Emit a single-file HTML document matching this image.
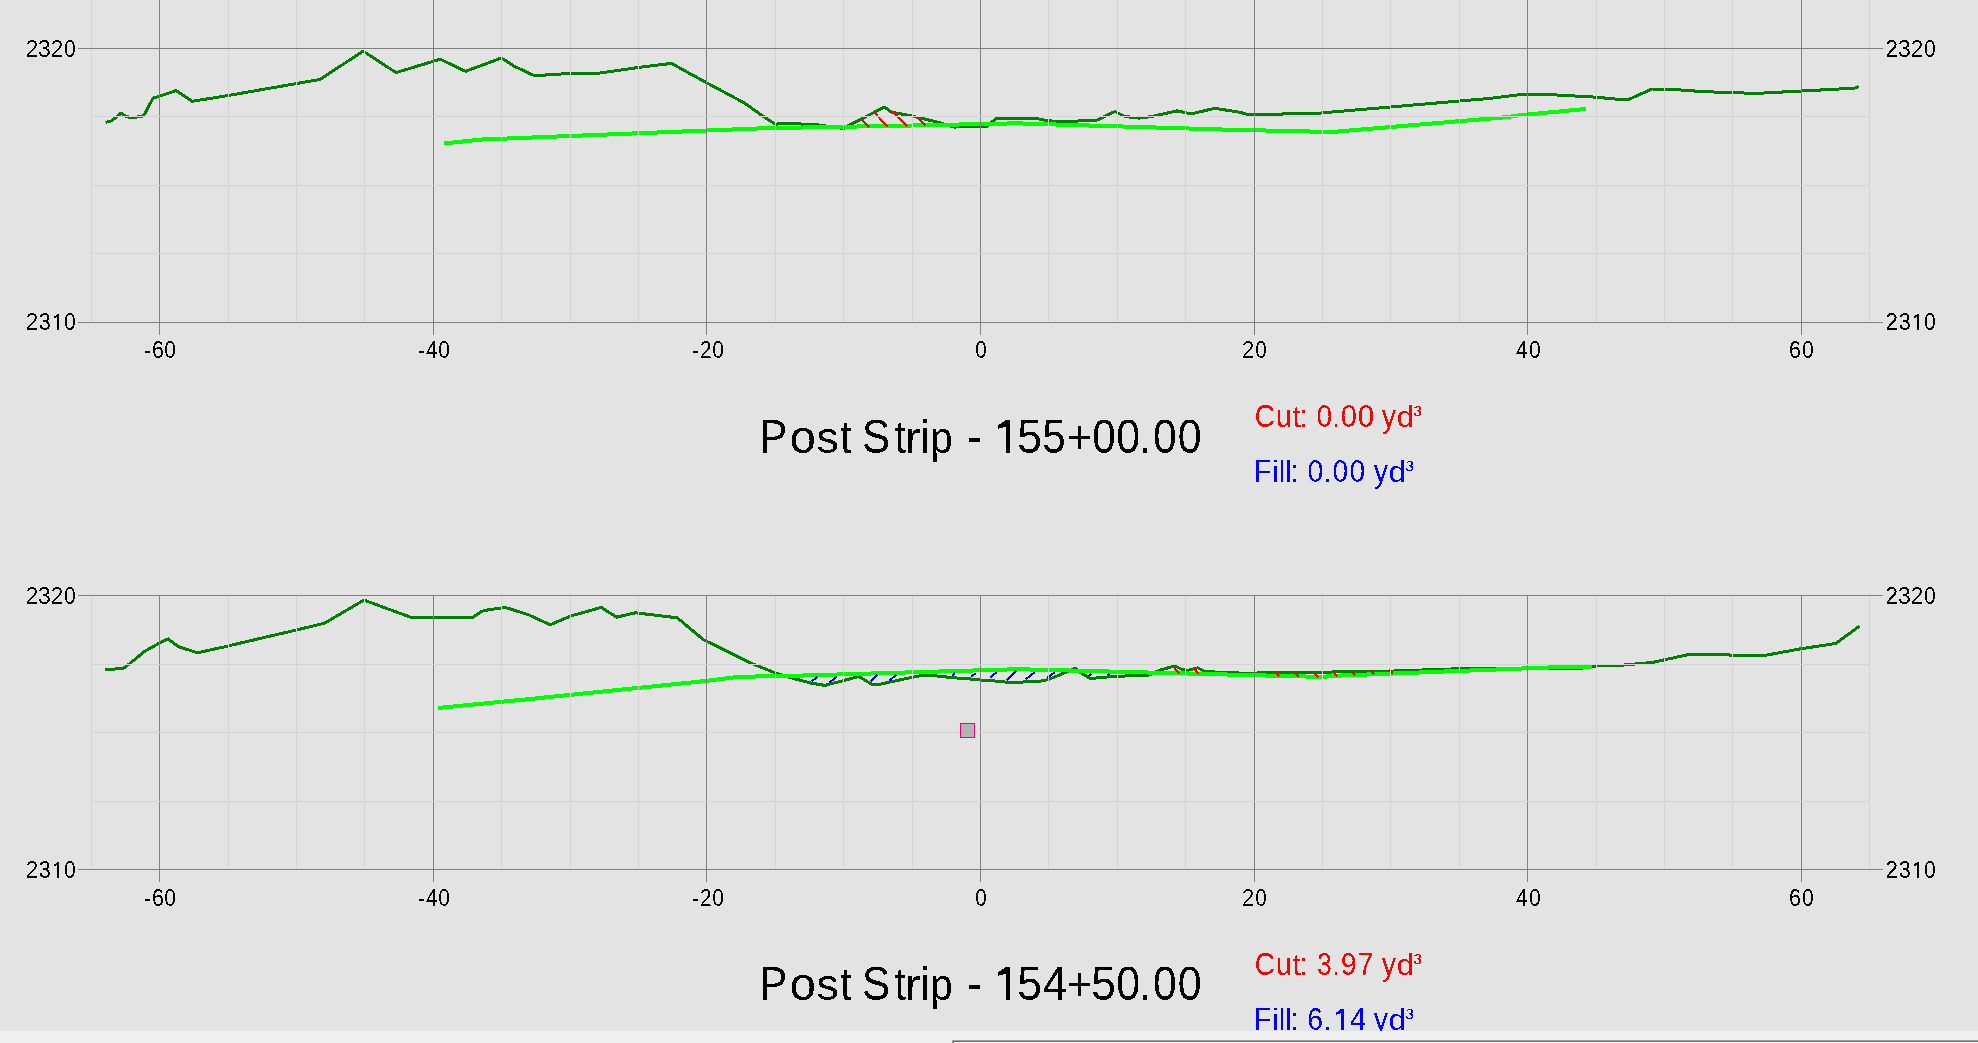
<!DOCTYPE html>
<html><head><meta charset="utf-8"><title>Post Strip</title>
<style>
html,body{margin:0;padding:0;background:#e3e3e3;overflow:hidden;}
svg{display:block;}
</style></head><body>
<svg width="1978" height="1043" viewBox="0 0 1978 1043">
<rect x="0" y="0" width="1978" height="1043" fill="#e3e3e3"/>
<polyline points="105.7,122.4 111.4,120.9 120.9,113.3 126.6,116.5 131.0,117.7 141.8,116.5 143.7,115.6 153.1,98.1 159.5,96.2 175.9,90.6 192.3,101.3 227.7,95.6 320.1,79.4 363.1,51.1 396.0,72.6 440.2,59.2 465.5,71.3 501.5,58.0 514.7,66.5 533.7,75.4 545.1,75.4 546.3,74.4 565.3,73.9 596.9,73.5 637.3,67.6 671.4,63.4 704.3,81.5 744.8,103.2 762.4,115.8 775.7,124.4 780.1,123.4 814.2,124.4 843.3,128.5 849.6,124.8 864.8,117.2 884.4,107.1 891.3,112.1 911.6,115.9 940.6,122.9 954.5,127.2 965.9,126.0 986.1,126.8 996.2,118.5 1036.7,118.5 1046.8,120.5 1057.0,121.5 1076.0,121.5 1080.0,120.6 1096.1,120.5 1115.0,111.5 1125.1,116.5 1139.0,118.1 1151.7,116.5 1177.0,110.9 1185.8,112.7 1190.8,114.0 1214.9,108.3 1240.0,112.3 1247.6,114.5 1281.7,114.5 1283.0,113.6 1318.4,113.2 1490.0,98.4 1525.5,94.0 1545.7,94.4 1596.3,97.2 1617.8,99.3 1629.1,99.3 1651.9,89.0 1669.6,89.2 1700.0,91.4 1734.6,92.9 1760.0,93.2 1854.7,88.2 1858.8,86.4" fill="none" stroke="#008000" stroke-width="3" stroke-linejoin="round" stroke-linecap="butt" shape-rendering="crispEdges"/>
<polyline points="444.0,143.4 482.0,139.5 765.0,128.2 912.0,125.5 1016.6,123.3 1225.0,129.6 1331.8,132.0 1505.0,117.3 1520.0,115.2 1586.0,108.9" fill="none" stroke="#00ff00" stroke-width="4" stroke-linejoin="round" stroke-linecap="butt" shape-rendering="crispEdges"/>
<polyline points="104.9,669.5 123.2,668.6 128.9,664.2 145.3,650.9 158.0,643.9 168.1,638.9 178.2,646.5 197.2,652.8 227.5,646.2 240.0,643.1 295.6,630.2 324.7,623.1 363.9,600.1 410.6,617.2 473.2,617.2 481.4,611.5 486.3,610.2 505.3,607.4 528.0,614.6 550.1,624.8 571.0,615.9 601.3,607.4 616.5,617.2 635.5,612.8 677.2,617.8 703.7,639.9 720.0,647.7 751.6,663.5 775.6,673.0 789.5,677.4 811.0,683.1 824.9,685.4 842.6,680.8 859.0,676.5 871.7,684.3 879.3,684.3 912.1,677.3 922.2,675.5 937.4,676.0 953.8,677.8 967.6,678.7 980.2,680.0 990.3,680.6 1008.0,682.3 1020.7,682.1 1040.9,681.1 1048.5,679.4 1066.2,672.2 1075.0,668.1 1081.3,673.1 1090.2,678.5 1106.6,677.0 1116.7,676.5 1134.0,675.5 1148.3,675.3 1159.7,670.3 1174.9,665.9 1182.4,669.7 1187.5,670.3 1197.6,667.8 1205.2,671.6 1241.7,673.1 1290.0,672.8 1320.0,672.5 1339.0,671.7 1389.0,671.2 1415.0,670.3 1440.0,669.3 1490.0,668.0 1580.0,668.5 1596.0,666.0 1617.0,665.6 1652.3,662.5 1689.1,654.4 1728.5,654.6 1730.6,655.4 1764.9,655.4 1801.3,648.7 1835.7,643.5 1859.5,626.1" fill="none" stroke="#008000" stroke-width="3" stroke-linejoin="round" stroke-linecap="butt" shape-rendering="crispEdges"/>
<polyline points="437.8,708.0 530.0,699.0 600.0,691.8 706.5,680.9 738.3,676.8 790.0,675.9 1018.0,669.2 1321.0,676.9 1339.0,675.6 1545.0,667.6 1560.0,667.2 1592.0,667.0" fill="none" stroke="#00ff00" stroke-width="4" stroke-linejoin="round" stroke-linecap="butt" shape-rendering="crispEdges"/>
<line x1="861.6" y1="119.3" x2="869.2" y2="126.9" stroke="#ff0000" stroke-width="2" shape-rendering="crispEdges"/>
<line x1="874.3" y1="112.5" x2="887.5" y2="126.7" stroke="#ff0000" stroke-width="2" shape-rendering="crispEdges"/>
<line x1="892.6" y1="111.5" x2="907.1" y2="126" stroke="#ff0000" stroke-width="2" shape-rendering="crispEdges"/>
<line x1="917.2" y1="117.6" x2="925.2" y2="125.4" stroke="#ff0000" stroke-width="2" shape-rendering="crispEdges"/>
<line x1="811.6" y1="681.2" x2="817.3" y2="677" stroke="#0000ff" stroke-width="2" shape-rendering="crispEdges"/>
<line x1="829.3" y1="682.5" x2="836.9" y2="676.8" stroke="#0000ff" stroke-width="2" shape-rendering="crispEdges"/>
<line x1="870.4" y1="681.2" x2="877.4" y2="674.9" stroke="#0000ff" stroke-width="2" shape-rendering="crispEdges"/>
<line x1="889.4" y1="680.6" x2="896.3" y2="674.9" stroke="#0000ff" stroke-width="2" shape-rendering="crispEdges"/>
<line x1="952" y1="675.5" x2="955" y2="673" stroke="#0000ff" stroke-width="2" shape-rendering="crispEdges"/>
<line x1="971.4" y1="676.7" x2="975.8" y2="673.1" stroke="#0000ff" stroke-width="2" shape-rendering="crispEdges"/>
<line x1="989.7" y1="677.7" x2="996.7" y2="672.2" stroke="#0000ff" stroke-width="2" shape-rendering="crispEdges"/>
<line x1="1006.8" y1="680.2" x2="1016.2" y2="671" stroke="#0000ff" stroke-width="2" shape-rendering="crispEdges"/>
<line x1="1025.7" y1="679.4" x2="1034.6" y2="672.2" stroke="#0000ff" stroke-width="2" shape-rendering="crispEdges"/>
<line x1="1047.2" y1="677.9" x2="1054.8" y2="672.2" stroke="#0000ff" stroke-width="2" shape-rendering="crispEdges"/>
<line x1="1088.3" y1="676" x2="1091.5" y2="673.5" stroke="#0000ff" stroke-width="2" shape-rendering="crispEdges"/>
<line x1="1107.5" y1="675" x2="1109.5" y2="673.5" stroke="#0000ff" stroke-width="2" shape-rendering="crispEdges"/>
<line x1="1173" y1="666.5" x2="1179.3" y2="673.1" stroke="#ff0000" stroke-width="2" shape-rendering="crispEdges"/>
<line x1="1193.2" y1="668.4" x2="1198.9" y2="674.1" stroke="#ff0000" stroke-width="2" shape-rendering="crispEdges"/>
<line x1="1275.2" y1="672.6" x2="1279" y2="676.4" stroke="#ff0000" stroke-width="2" shape-rendering="crispEdges"/>
<line x1="1294.2" y1="672.6" x2="1298.6" y2="676.4" stroke="#ff0000" stroke-width="2" shape-rendering="crispEdges"/>
<line x1="1313.1" y1="672.6" x2="1318.2" y2="677.3" stroke="#ff0000" stroke-width="2" shape-rendering="crispEdges"/>
<line x1="1332.1" y1="671.6" x2="1337.1" y2="676.4" stroke="#ff0000" stroke-width="2" shape-rendering="crispEdges"/>
<line x1="1351" y1="671.6" x2="1355.5" y2="675.4" stroke="#ff0000" stroke-width="2" shape-rendering="crispEdges"/>
<line x1="1370" y1="670.6" x2="1374.4" y2="674.4" stroke="#ff0000" stroke-width="2" shape-rendering="crispEdges"/>
<line x1="1389" y1="669.7" x2="1392.7" y2="673.5" stroke="#ff0000" stroke-width="2" shape-rendering="crispEdges"/>
<line x1="91.5" y1="0" x2="91.5" y2="323" stroke="#d3d3d3"/>
<line x1="159.5" y1="0" x2="159.5" y2="335" stroke="#808080"/>
<line x1="228.5" y1="0" x2="228.5" y2="323" stroke="#d3d3d3"/>
<line x1="296.5" y1="0" x2="296.5" y2="323" stroke="#d3d3d3"/>
<line x1="364.5" y1="0" x2="364.5" y2="323" stroke="#d3d3d3"/>
<line x1="433.5" y1="0" x2="433.5" y2="335" stroke="#808080"/>
<line x1="501.5" y1="0" x2="501.5" y2="323" stroke="#d3d3d3"/>
<line x1="570.5" y1="0" x2="570.5" y2="323" stroke="#d3d3d3"/>
<line x1="638.5" y1="0" x2="638.5" y2="323" stroke="#d3d3d3"/>
<line x1="706.5" y1="0" x2="706.5" y2="335" stroke="#808080"/>
<line x1="775.5" y1="0" x2="775.5" y2="323" stroke="#d3d3d3"/>
<line x1="843.5" y1="0" x2="843.5" y2="323" stroke="#d3d3d3"/>
<line x1="912.5" y1="0" x2="912.5" y2="323" stroke="#d3d3d3"/>
<line x1="980.5" y1="0" x2="980.5" y2="335" stroke="#808080"/>
<line x1="1048.5" y1="0" x2="1048.5" y2="323" stroke="#d3d3d3"/>
<line x1="1117.5" y1="0" x2="1117.5" y2="323" stroke="#d3d3d3"/>
<line x1="1185.5" y1="0" x2="1185.5" y2="323" stroke="#d3d3d3"/>
<line x1="1254.5" y1="0" x2="1254.5" y2="335" stroke="#808080"/>
<line x1="1322.5" y1="0" x2="1322.5" y2="323" stroke="#d3d3d3"/>
<line x1="1390.5" y1="0" x2="1390.5" y2="323" stroke="#d3d3d3"/>
<line x1="1459.5" y1="0" x2="1459.5" y2="323" stroke="#d3d3d3"/>
<line x1="1527.5" y1="0" x2="1527.5" y2="335" stroke="#808080"/>
<line x1="1596.5" y1="0" x2="1596.5" y2="323" stroke="#d3d3d3"/>
<line x1="1664.5" y1="0" x2="1664.5" y2="323" stroke="#d3d3d3"/>
<line x1="1732.5" y1="0" x2="1732.5" y2="323" stroke="#d3d3d3"/>
<line x1="1801.5" y1="0" x2="1801.5" y2="335" stroke="#808080"/>
<line x1="1869.5" y1="0" x2="1869.5" y2="323" stroke="#d3d3d3"/>
<line x1="78" y1="48.5" x2="1883" y2="48.5" stroke="#808080"/>
<line x1="91" y1="116.5" x2="1870" y2="116.5" stroke="#d3d3d3"/>
<line x1="91" y1="185.5" x2="1870" y2="185.5" stroke="#d3d3d3"/>
<line x1="91" y1="253.5" x2="1870" y2="253.5" stroke="#d3d3d3"/>
<line x1="78" y1="322.5" x2="1883" y2="322.5" stroke="#808080"/>
<line x1="91.5" y1="595" x2="91.5" y2="870" stroke="#d3d3d3"/>
<line x1="159.5" y1="595" x2="159.5" y2="882" stroke="#808080"/>
<line x1="228.5" y1="595" x2="228.5" y2="870" stroke="#d3d3d3"/>
<line x1="296.5" y1="595" x2="296.5" y2="870" stroke="#d3d3d3"/>
<line x1="364.5" y1="595" x2="364.5" y2="870" stroke="#d3d3d3"/>
<line x1="433.5" y1="595" x2="433.5" y2="882" stroke="#808080"/>
<line x1="501.5" y1="595" x2="501.5" y2="870" stroke="#d3d3d3"/>
<line x1="570.5" y1="595" x2="570.5" y2="870" stroke="#d3d3d3"/>
<line x1="638.5" y1="595" x2="638.5" y2="870" stroke="#d3d3d3"/>
<line x1="706.5" y1="595" x2="706.5" y2="882" stroke="#808080"/>
<line x1="775.5" y1="595" x2="775.5" y2="870" stroke="#d3d3d3"/>
<line x1="843.5" y1="595" x2="843.5" y2="870" stroke="#d3d3d3"/>
<line x1="912.5" y1="595" x2="912.5" y2="870" stroke="#d3d3d3"/>
<line x1="980.5" y1="595" x2="980.5" y2="882" stroke="#808080"/>
<line x1="1048.5" y1="595" x2="1048.5" y2="870" stroke="#d3d3d3"/>
<line x1="1117.5" y1="595" x2="1117.5" y2="870" stroke="#d3d3d3"/>
<line x1="1185.5" y1="595" x2="1185.5" y2="870" stroke="#d3d3d3"/>
<line x1="1254.5" y1="595" x2="1254.5" y2="882" stroke="#808080"/>
<line x1="1322.5" y1="595" x2="1322.5" y2="870" stroke="#d3d3d3"/>
<line x1="1390.5" y1="595" x2="1390.5" y2="870" stroke="#d3d3d3"/>
<line x1="1459.5" y1="595" x2="1459.5" y2="870" stroke="#d3d3d3"/>
<line x1="1527.5" y1="595" x2="1527.5" y2="882" stroke="#808080"/>
<line x1="1596.5" y1="595" x2="1596.5" y2="870" stroke="#d3d3d3"/>
<line x1="1664.5" y1="595" x2="1664.5" y2="870" stroke="#d3d3d3"/>
<line x1="1732.5" y1="595" x2="1732.5" y2="870" stroke="#d3d3d3"/>
<line x1="1801.5" y1="595" x2="1801.5" y2="882" stroke="#808080"/>
<line x1="1869.5" y1="595" x2="1869.5" y2="870" stroke="#d3d3d3"/>
<line x1="78" y1="595.5" x2="1883" y2="595.5" stroke="#808080"/>
<line x1="91" y1="664.5" x2="1870" y2="664.5" stroke="#d3d3d3"/>
<line x1="91" y1="732.5" x2="1870" y2="732.5" stroke="#d3d3d3"/>
<line x1="91" y1="801.5" x2="1870" y2="801.5" stroke="#d3d3d3"/>
<line x1="78" y1="869.5" x2="1883" y2="869.5" stroke="#808080"/>
<rect x="960.5" y="723.5" width="14" height="14" fill="rgba(128,128,128,0.47)" stroke="#f00078" stroke-width="1"/>
<defs><filter id="bin" x="0" y="0" width="1978" height="1043" filterUnits="userSpaceOnUse"><feComponentTransfer><feFuncA type="discrete" tableValues="0 1"/></feComponentTransfer></filter></defs>
<g filter="url(#bin)" style="font-family:'Liberation Sans', sans-serif">
<text transform="matrix(0.9568,0,0,0.9850,25.67,57.00)" font-size="23.4" fill="#000">2</text>
<text transform="matrix(0.9825,0,0,0.9850,38.12,57.00)" font-size="23.4" fill="#000">3</text>
<text transform="matrix(0.9568,0,0,0.9850,50.77,57.00)" font-size="23.4" fill="#000">2</text>
<text transform="matrix(0.9029,0,0,0.9850,64.07,57.00)" font-size="23.4" fill="#000">0</text>
<text transform="matrix(0.9568,0,0,0.9850,25.67,330.00)" font-size="23.4" fill="#000">2</text>
<text transform="matrix(0.9014,0,0,0.9850,39.10,330.00)" font-size="23.4" fill="#000">3</text>
<polygon points="57.37,313.90 59.10,313.90 59.10,330.00 57.37,330.00 57.37,317.12 54.00,318.33 54.00,316.64" fill="#000"/>
<text transform="matrix(0.9029,0,0,0.9850,64.07,330.00)" font-size="23.4" fill="#000">0</text>
<text transform="matrix(0.9568,0,0,0.9850,1885.57,57.00)" font-size="23.4" fill="#000">2</text>
<text transform="matrix(0.9825,0,0,0.9850,1898.02,57.00)" font-size="23.4" fill="#000">3</text>
<text transform="matrix(0.9568,0,0,0.9850,1910.67,57.00)" font-size="23.4" fill="#000">2</text>
<text transform="matrix(0.9029,0,0,0.9850,1923.97,57.00)" font-size="23.4" fill="#000">0</text>
<text transform="matrix(0.9568,0,0,0.9850,1885.57,330.00)" font-size="23.4" fill="#000">2</text>
<text transform="matrix(0.9014,0,0,0.9850,1899.00,330.00)" font-size="23.4" fill="#000">3</text>
<polygon points="1917.27,313.90 1919.00,313.90 1919.00,330.00 1917.27,330.00 1917.27,317.12 1913.90,318.33 1913.90,316.64" fill="#000"/>
<text transform="matrix(0.9029,0,0,0.9850,1923.97,330.00)" font-size="23.4" fill="#000">0</text>
<text transform="matrix(0.8927,0,0,0.9850,144.07,358.00)" font-size="23.4" fill="#000">-</text>
<text transform="matrix(0.9076,0,0,0.9850,151.92,358.00)" font-size="23.4" fill="#000">6</text>
<text transform="matrix(0.8940,0,0,0.9850,164.18,358.00)" font-size="23.4" fill="#000">0</text>
<text transform="matrix(0.8927,0,0,0.9850,418.07,358.00)" font-size="23.4" fill="#000">-</text>
<text transform="matrix(0.9000,0,0,0.9850,425.93,358.00)" font-size="23.4" fill="#000">4</text>
<text transform="matrix(0.8940,0,0,0.9850,438.18,358.00)" font-size="23.4" fill="#000">0</text>
<text transform="matrix(0.8927,0,0,0.9850,692.07,358.00)" font-size="23.4" fill="#000">-</text>
<text transform="matrix(0.9000,0,0,0.9850,699.93,358.00)" font-size="23.4" fill="#000">2</text>
<text transform="matrix(0.8940,0,0,0.9850,712.18,358.00)" font-size="23.4" fill="#000">0</text>
<text transform="matrix(0.8761,0,0,0.9850,975.20,358.00)" font-size="23.4" fill="#000">0</text>
<text transform="matrix(0.9287,0,0,0.9850,1241.91,358.00)" font-size="23.4" fill="#000">2</text>
<text transform="matrix(0.8850,0,0,0.9850,1255.29,358.00)" font-size="23.4" fill="#000">0</text>
<text transform="matrix(0.9000,0,0,0.9850,1515.93,358.00)" font-size="23.4" fill="#000">4</text>
<text transform="matrix(0.9029,0,0,0.9850,1529.07,358.00)" font-size="23.4" fill="#000">0</text>
<text transform="matrix(0.9169,0,0,0.9850,1788.91,358.00)" font-size="23.4" fill="#000">6</text>
<text transform="matrix(0.9029,0,0,0.9850,1802.07,358.00)" font-size="23.4" fill="#000">0</text>
<text transform="matrix(0.9568,0,0,0.9850,25.67,604.00)" font-size="23.4" fill="#000">2</text>
<text transform="matrix(0.9825,0,0,0.9850,38.12,604.00)" font-size="23.4" fill="#000">3</text>
<text transform="matrix(0.9568,0,0,0.9850,50.77,604.00)" font-size="23.4" fill="#000">2</text>
<text transform="matrix(0.9029,0,0,0.9850,64.07,604.00)" font-size="23.4" fill="#000">0</text>
<text transform="matrix(0.9568,0,0,0.9850,25.67,878.00)" font-size="23.4" fill="#000">2</text>
<text transform="matrix(0.9014,0,0,0.9850,39.10,878.00)" font-size="23.4" fill="#000">3</text>
<polygon points="57.37,861.90 59.10,861.90 59.10,878.00 57.37,878.00 57.37,865.12 54.00,866.33 54.00,864.64" fill="#000"/>
<text transform="matrix(0.9029,0,0,0.9850,64.07,878.00)" font-size="23.4" fill="#000">0</text>
<text transform="matrix(0.9568,0,0,0.9850,1885.57,604.00)" font-size="23.4" fill="#000">2</text>
<text transform="matrix(0.9825,0,0,0.9850,1898.02,604.00)" font-size="23.4" fill="#000">3</text>
<text transform="matrix(0.9568,0,0,0.9850,1910.67,604.00)" font-size="23.4" fill="#000">2</text>
<text transform="matrix(0.9029,0,0,0.9850,1923.97,604.00)" font-size="23.4" fill="#000">0</text>
<text transform="matrix(0.9568,0,0,0.9850,1885.57,878.00)" font-size="23.4" fill="#000">2</text>
<text transform="matrix(0.9014,0,0,0.9850,1899.00,878.00)" font-size="23.4" fill="#000">3</text>
<polygon points="1917.27,861.90 1919.00,861.90 1919.00,878.00 1917.27,878.00 1917.27,865.12 1913.90,866.33 1913.90,864.64" fill="#000"/>
<text transform="matrix(0.9029,0,0,0.9850,1923.97,878.00)" font-size="23.4" fill="#000">0</text>
<text transform="matrix(0.8927,0,0,0.9850,144.07,906.00)" font-size="23.4" fill="#000">-</text>
<text transform="matrix(0.9076,0,0,0.9850,151.92,906.00)" font-size="23.4" fill="#000">6</text>
<text transform="matrix(0.8940,0,0,0.9850,164.18,906.00)" font-size="23.4" fill="#000">0</text>
<text transform="matrix(0.8927,0,0,0.9850,418.07,906.00)" font-size="23.4" fill="#000">-</text>
<text transform="matrix(0.9000,0,0,0.9850,425.93,906.00)" font-size="23.4" fill="#000">4</text>
<text transform="matrix(0.8940,0,0,0.9850,438.18,906.00)" font-size="23.4" fill="#000">0</text>
<text transform="matrix(0.8927,0,0,0.9850,692.07,906.00)" font-size="23.4" fill="#000">-</text>
<text transform="matrix(0.9000,0,0,0.9850,699.93,906.00)" font-size="23.4" fill="#000">2</text>
<text transform="matrix(0.8940,0,0,0.9850,712.18,906.00)" font-size="23.4" fill="#000">0</text>
<text transform="matrix(0.8761,0,0,0.9850,975.20,906.00)" font-size="23.4" fill="#000">0</text>
<text transform="matrix(0.9287,0,0,0.9850,1241.91,906.00)" font-size="23.4" fill="#000">2</text>
<text transform="matrix(0.8850,0,0,0.9850,1255.29,906.00)" font-size="23.4" fill="#000">0</text>
<text transform="matrix(0.9000,0,0,0.9850,1515.93,906.00)" font-size="23.4" fill="#000">4</text>
<text transform="matrix(0.9029,0,0,0.9850,1529.07,906.00)" font-size="23.4" fill="#000">0</text>
<text transform="matrix(0.9169,0,0,0.9850,1788.91,906.00)" font-size="23.4" fill="#000">6</text>
<text transform="matrix(0.9029,0,0,0.9850,1802.07,906.00)" font-size="23.4" fill="#000">0</text>
<text transform="matrix(0.9027,0,0,1.0300,759.49,453.00)" font-size="46" fill="#000">P</text>
<text transform="matrix(1.0221,0,0,0.9850,789.73,453.00)" font-size="46" fill="#000">o</text>
<text transform="matrix(0.9672,0,0,0.9850,816.56,453.00)" font-size="46" fill="#000">s</text>
<text transform="matrix(0.8768,0,0,1.0100,840.29,453.00)" font-size="46" fill="#000">t</text>
<text transform="matrix(0.9176,0,0,1.0300,861.98,453.00)" font-size="46" fill="#000">S</text>
<text transform="matrix(0.9279,0,0,1.0100,894.25,453.00)" font-size="46" fill="#000">t</text>
<text transform="matrix(1.0609,0,0,0.9850,904.66,453.00)" font-size="46" fill="#000">r</text>
<text transform="matrix(1.0636,0,0,0.9950,919.53,453.00)" font-size="46" fill="#000">i</text>
<text transform="matrix(0.8798,0,0,0.9750,930.19,453.00)" font-size="46" fill="#000">p</text>
<text transform="matrix(1.0329,0,0,1.0000,966.49,453.00)" font-size="46" fill="#000">-</text>
<polygon points="1005.89,419.90 1010.00,419.90 1010.00,453.00 1005.89,453.00 1005.89,426.52 997.90,429.00 997.90,425.53" fill="#000"/>
<text transform="matrix(0.9675,0,0,1.0300,1017.22,453.00)" font-size="46" fill="#000">5</text>
<text transform="matrix(0.9170,0,0,1.0300,1042.31,453.00)" font-size="46" fill="#000">5</text>
<text transform="matrix(0.9441,0,0,1.0000,1066.78,453.00)" font-size="46" fill="#000">+</text>
<text transform="matrix(0.9186,0,0,1.0300,1092.15,453.00)" font-size="46" fill="#000">0</text>
<text transform="matrix(0.9368,0,0,1.0300,1116.22,453.00)" font-size="46" fill="#000">0</text>
<text transform="matrix(1.0274,0,0,1.0000,1138.48,453.00)" font-size="46" fill="#000">.</text>
<text transform="matrix(0.9277,0,0,1.0300,1152.93,453.00)" font-size="46" fill="#000">0</text>
<text transform="matrix(0.9368,0,0,1.0300,1177.82,453.00)" font-size="46" fill="#000">0</text>
<text transform="matrix(0.9258,0,0,1.0000,1254.46,427.00)" font-size="30.7" fill="#ff0000">C</text>
<text transform="matrix(0.9355,0,0,1.0000,1275.93,427.00)" font-size="30.7" fill="#ff0000">u</text>
<text transform="matrix(0.9822,0,0,0.9600,1292.54,427.00)" font-size="30.7" fill="#ff0000">t</text>
<text transform="matrix(1.0947,0,0,1.0000,1298.83,427.00)" font-size="30.7" fill="#ff0000">:</text>
<text transform="matrix(0.8995,0,0,1.0000,1316.82,427.00)" font-size="30.7" fill="#ff0000">0</text>
<text transform="matrix(0.8553,0,0,1.0000,1332.30,427.00)" font-size="30.7" fill="#ff0000">.</text>
<text transform="matrix(0.9472,0,0,1.0000,1340.86,427.00)" font-size="30.7" fill="#ff0000">0</text>
<text transform="matrix(0.9676,0,0,1.0000,1357.64,427.00)" font-size="30.7" fill="#ff0000">0</text>
<text transform="matrix(0.9267,0,0,1.0000,1381.83,427.00)" font-size="30.7" fill="#ff0000">y</text>
<text transform="matrix(1.0213,0,0,0.9500,1396.68,427.00)" font-size="30.7" fill="#ff0000">d</text>
<text transform="matrix(0.8135,0,0,0.8050,1413.47,423.15)" font-size="30.7" fill="#ff0000">³</text>
<text transform="matrix(0.9397,0,0,1.0000,1253.53,482.00)" font-size="30.7" fill="#0000ff">F</text>
<text transform="matrix(1.1860,0,0,0.9500,1271.46,482.00)" font-size="30.7" fill="#0000ff">i</text>
<text transform="matrix(0.9636,0,0,0.9500,1278.61,482.00)" font-size="30.7" fill="#0000ff">l</text>
<text transform="matrix(0.9636,0,0,0.9500,1285.21,482.00)" font-size="30.7" fill="#0000ff">l</text>
<text transform="matrix(1.1632,0,0,1.0000,1289.54,482.00)" font-size="30.7" fill="#0000ff">:</text>
<text transform="matrix(0.9267,0,0,1.0000,1307.59,482.00)" font-size="30.7" fill="#0000ff">0</text>
<text transform="matrix(1.1632,0,0,1.0000,1322.44,482.00)" font-size="30.7" fill="#0000ff">.</text>
<text transform="matrix(0.8995,0,0,1.0000,1332.82,482.00)" font-size="30.7" fill="#0000ff">0</text>
<text transform="matrix(0.8995,0,0,1.0000,1349.82,482.00)" font-size="30.7" fill="#0000ff">0</text>
<text transform="matrix(0.9267,0,0,1.0000,1373.73,482.00)" font-size="30.7" fill="#0000ff">y</text>
<text transform="matrix(1.0285,0,0,0.9500,1388.47,482.00)" font-size="30.7" fill="#0000ff">d</text>
<text transform="matrix(0.8135,0,0,0.8050,1405.57,478.15)" font-size="30.7" fill="#0000ff">³</text>
<text transform="matrix(0.9027,0,0,1.0300,759.49,1000.00)" font-size="46" fill="#000">P</text>
<text transform="matrix(1.0221,0,0,0.9850,789.73,1000.00)" font-size="46" fill="#000">o</text>
<text transform="matrix(0.9672,0,0,0.9850,816.56,1000.00)" font-size="46" fill="#000">s</text>
<text transform="matrix(0.8768,0,0,1.0100,840.29,1000.00)" font-size="46" fill="#000">t</text>
<text transform="matrix(0.9176,0,0,1.0300,861.98,1000.00)" font-size="46" fill="#000">S</text>
<text transform="matrix(0.9279,0,0,1.0100,894.25,1000.00)" font-size="46" fill="#000">t</text>
<text transform="matrix(1.0609,0,0,0.9850,904.66,1000.00)" font-size="46" fill="#000">r</text>
<text transform="matrix(1.0636,0,0,0.9950,919.53,1000.00)" font-size="46" fill="#000">i</text>
<text transform="matrix(0.8798,0,0,0.9750,930.19,1000.00)" font-size="46" fill="#000">p</text>
<text transform="matrix(1.0329,0,0,1.0000,966.49,1000.00)" font-size="46" fill="#000">-</text>
<polygon points="1005.89,966.90 1010.00,966.90 1010.00,1000.00 1005.89,1000.00 1005.89,973.52 997.90,976.00 997.90,972.53" fill="#000"/>
<text transform="matrix(0.9675,0,0,1.0300,1017.22,1000.00)" font-size="46" fill="#000">5</text>
<text transform="matrix(0.9534,0,0,1.0300,1042.69,1000.00)" font-size="46" fill="#000">4</text>
<text transform="matrix(0.9441,0,0,1.0000,1066.78,1000.00)" font-size="46" fill="#000">+</text>
<text transform="matrix(0.9629,0,0,1.0300,1091.23,1000.00)" font-size="46" fill="#000">5</text>
<text transform="matrix(0.9368,0,0,1.0300,1116.22,1000.00)" font-size="46" fill="#000">0</text>
<text transform="matrix(1.0274,0,0,1.0000,1138.48,1000.00)" font-size="46" fill="#000">.</text>
<text transform="matrix(0.9277,0,0,1.0300,1152.93,1000.00)" font-size="46" fill="#000">0</text>
<text transform="matrix(0.9368,0,0,1.0300,1177.82,1000.00)" font-size="46" fill="#000">0</text>
<text transform="matrix(0.9258,0,0,1.0000,1254.46,975.00)" font-size="30.7" fill="#ff0000">C</text>
<text transform="matrix(0.9355,0,0,1.0000,1275.93,975.00)" font-size="30.7" fill="#ff0000">u</text>
<text transform="matrix(0.9822,0,0,0.9600,1292.54,975.00)" font-size="30.7" fill="#ff0000">t</text>
<text transform="matrix(1.0947,0,0,1.0000,1298.83,975.00)" font-size="30.7" fill="#ff0000">:</text>
<text transform="matrix(0.8657,0,0,1.0000,1316.89,975.00)" font-size="30.7" fill="#ff0000">3</text>
<text transform="matrix(0.8553,0,0,1.0000,1332.30,975.00)" font-size="30.7" fill="#ff0000">.</text>
<text transform="matrix(0.9308,0,0,1.0000,1340.76,975.00)" font-size="30.7" fill="#ff0000">9</text>
<text transform="matrix(0.9028,0,0,1.0000,1357.88,975.00)" font-size="30.7" fill="#ff0000">7</text>
<text transform="matrix(0.9267,0,0,1.0000,1381.83,975.00)" font-size="30.7" fill="#ff0000">y</text>
<text transform="matrix(1.0213,0,0,0.9500,1396.68,975.00)" font-size="30.7" fill="#ff0000">d</text>
<text transform="matrix(0.8135,0,0,0.8050,1413.47,971.15)" font-size="30.7" fill="#ff0000">³</text>
<text transform="matrix(0.9397,0,0,1.0000,1253.53,1030.00)" font-size="30.7" fill="#0000ff">F</text>
<text transform="matrix(1.1860,0,0,0.9500,1271.46,1030.00)" font-size="30.7" fill="#0000ff">i</text>
<text transform="matrix(0.9636,0,0,0.9500,1278.61,1030.00)" font-size="30.7" fill="#0000ff">l</text>
<text transform="matrix(0.9636,0,0,0.9500,1285.21,1030.00)" font-size="30.7" fill="#0000ff">l</text>
<text transform="matrix(1.1632,0,0,1.0000,1289.54,1030.00)" font-size="30.7" fill="#0000ff">:</text>
<text transform="matrix(0.9248,0,0,1.0000,1307.36,1030.00)" font-size="30.7" fill="#0000ff">6</text>
<text transform="matrix(1.1632,0,0,1.0000,1322.44,1030.00)" font-size="30.7" fill="#0000ff">.</text>
<polygon points="1341.38,1008.80 1344.10,1008.80 1344.10,1030.00 1341.38,1030.00 1341.38,1013.04 1336.10,1014.63 1336.10,1012.40" fill="#0000ff"/>
<text transform="matrix(0.9502,0,0,1.0000,1350.03,1030.00)" font-size="30.7" fill="#0000ff">4</text>
<text transform="matrix(0.9267,0,0,1.0000,1373.73,1030.00)" font-size="30.7" fill="#0000ff">y</text>
<text transform="matrix(1.0285,0,0,0.9500,1388.47,1030.00)" font-size="30.7" fill="#0000ff">d</text>
<text transform="matrix(0.8135,0,0,0.8050,1405.57,1026.15)" font-size="30.7" fill="#0000ff">³</text>
</g>
<rect x="0" y="1031" width="1978" height="12" fill="#f0f0f0"/>
<rect x="952" y="1040" width="1026" height="1" fill="#a0a0a0"/>
<rect x="952" y="1040" width="1" height="3" fill="#a0a0a0"/>
<rect x="953" y="1041" width="1025" height="1" fill="#696969"/>
<rect x="953" y="1041" width="1" height="2" fill="#696969"/>
<rect x="954" y="1042" width="1024" height="1" fill="#ffffff"/>
</svg>
</body></html>
